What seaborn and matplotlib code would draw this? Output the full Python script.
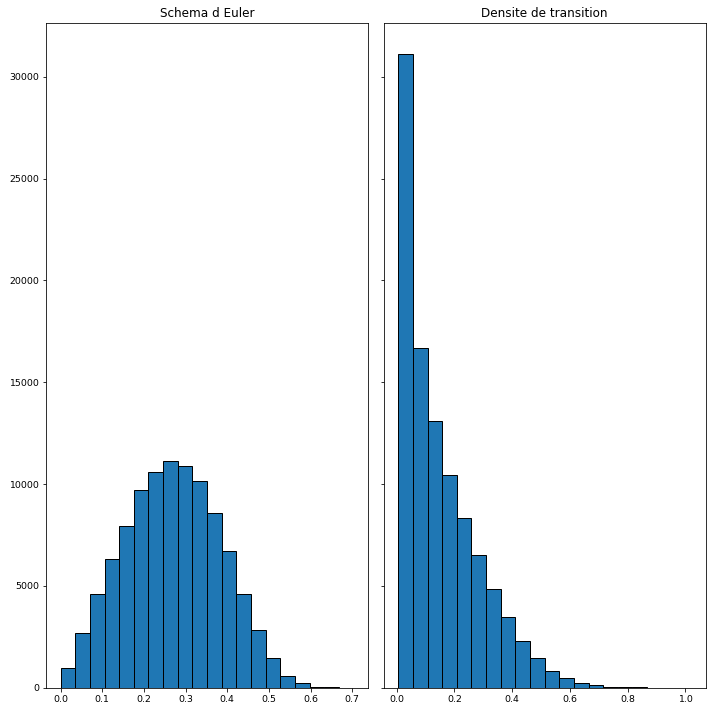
import numpy as np
import pandas as pd
import matplotlib
matplotlib.use("Agg")
import matplotlib.pyplot as plt
import seaborn as sns

# histogram counts (20 bins per panel)
euler_range = (0.0, 0.703)
euler_counts = [980, 2705, 4620, 6340, 7960, 9730, 10570, 11110, 10910, 10170,
                8600, 6730, 4620, 2850, 1475, 590, 246, 50, 40, 3]

trans_range = (0.005, 1.02)
trans_counts = [31100, 16690, 13100, 10440, 8330, 6510, 4840, 3460, 2280, 1445,
                805, 460, 215, 115, 30, 20, 12, 2, 1, 1]

titles = ["Schema d Euler", "Densite de transition"]


def hist_frame(rng, counts):
    edges = np.linspace(rng[0], rng[1], len(counts) + 1)
    centers = (edges[:-1] + edges[1:]) / 2
    return pd.DataFrame({"x": centers, "n": counts})


fig, axes = plt.subplots(1, 2, figsize=(712 / 72, 712 / 72), dpi=72, sharey=True)
fig.patch.set_facecolor("white")

for ax, (rng, counts), title in zip(axes, [(euler_range, euler_counts), (trans_range, trans_counts)], titles):
    df = hist_frame(rng, counts)
    sns.histplot(data=df, x="x", weights="n", bins=len(counts), binrange=rng, ax=ax,
                 color="#1f77b4", edgecolor="black", linewidth=1, alpha=1)
    ax.set_title(title, fontsize=12)
    ax.set_xlabel("")
    ax.set_ylabel("")
    ax.tick_params(labelsize=9.4)

fig.subplots_adjust(left=46 / 712, right=705.7 / 712, bottom=1 - 687.7 / 712,
                    top=1 - 22.7 / 712, wspace=0.048)
plt.savefig("out.png", dpi=72)
